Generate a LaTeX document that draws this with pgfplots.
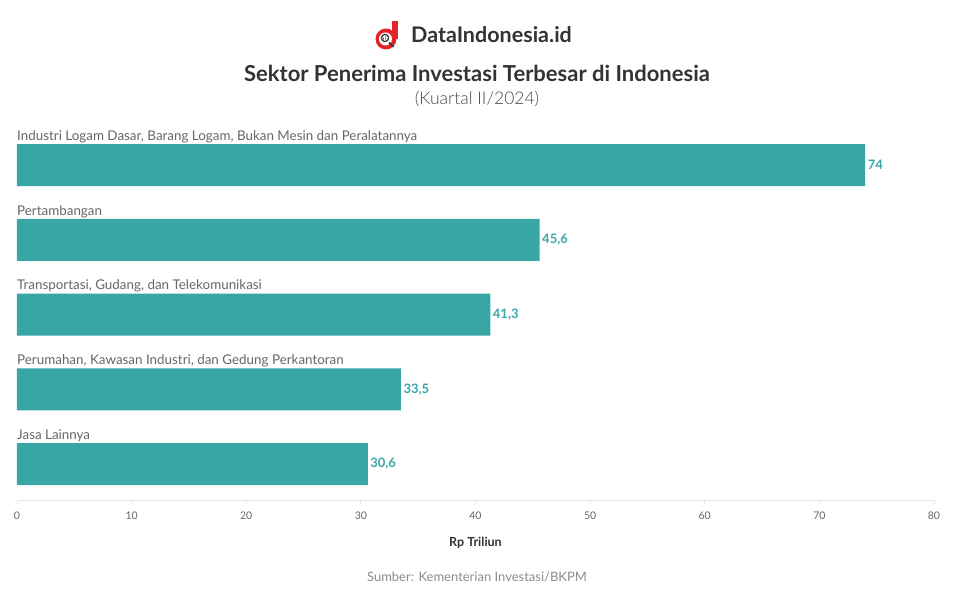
\documentclass[border=0pt]{standalone}
\usepackage{pgfplots}
\pgfplotsset{compat=1.18}
\usepackage{fontspec}
\setmainfont{Lato}
\definecolor{barc}{HTML}{38A6A5}
\definecolor{txt}{HTML}{333333}
\definecolor{lab}{HTML}{666666}
\definecolor{logored}{HTML}{E5232B}
\begin{document}
\begin{tikzpicture}[x=1pt,y=1pt]
\path[use as bounding box] (0,0) rectangle (954,596);
% logo
\fill[logored] (386,557) circle (10.5);
\fill[logored] (391.5,557) rectangle (397.5,575);
\fill[white] (385.5,557) circle (6.5);
\draw[txt, line width=1.6pt] (389,553.5) -- (393.5,549);
\draw[txt, line width=1.2pt] (385,558) circle (3.6);
\fill[barc] (383.3,556) rectangle (384.3,558.5);
\fill[orange] (385,556) rectangle (386,560);
\node[anchor=west, text=txt, font=\fontsize{21.5}{25}\selectfont\bfseries, inner sep=0pt] at (411,561) {DataIndonesia.id};
% title
\node[text=txt, font=\fontsize{22}{26}\selectfont\bfseries, inner sep=0pt] at (477,523) {Sektor Penerima Investasi Terbesar di Indonesia};
\node[text=txt!90, font=\fontsize{17.5}{20}\selectfont\fontspec{Lato Light}, inner sep=0pt] at (477,497) {(Kuartal II/2024)};
\begin{axis}[
  at={(17pt,96pt)}, anchor=south west,
  scale only axis, width=917pt, height=379.7pt,
  xmin=0, xmax=80, ymin=-4.48, ymax=0.6,
  xbar, bar width=42pt,
  axis x line*=bottom, axis y line=none,
  axis line style={draw=black!10, line width=0.8pt},
  xtick={0,10,...,80}, ytick=\empty,
  xtick pos=bottom, tick align=outside,
  major tick length=4pt,
  tick style={draw=black!10, line width=0.8pt},
  /pgf/number format/assume math mode=true,
  xticklabel style={font=\fontsize{10.5}{12}\selectfont, text=lab, yshift=-4pt},
  xlabel={Rp Triliun},
  xlabel style={font=\fontsize{12.5}{14}\selectfont\bfseries, text=txt, yshift=-11pt},
  nodes near coords,
  point meta=x,
  nodes near coords style={font=\fontsize{13}{15}\selectfont\bfseries, text=barc, anchor=west, xshift=-1pt, /pgf/number format/use comma},
  clip=false,
]
\addplot[fill=barc, draw=none] coordinates {(74,0) (45.6,-1) (41.3,-2) (33.5,-3) (30.6,-4)};
\node[anchor=base west, inner sep=0pt, text=lab, font=\fontsize{13.4}{15}\selectfont] at (axis cs:0,0.33) {Industri Logam Dasar, Barang Logam, Bukan Mesin dan Peralatannya};
\node[anchor=base west, inner sep=0pt, text=lab, font=\fontsize{13.4}{15}\selectfont] at (axis cs:0,-0.67) {Pertambangan};
\node[anchor=base west, inner sep=0pt, text=lab, font=\fontsize{13.4}{15}\selectfont] at (axis cs:0,-1.67) {Transportasi, Gudang, dan Telekomunikasi};
\node[anchor=base west, inner sep=0pt, text=lab, font=\fontsize{13.4}{15}\selectfont] at (axis cs:0,-2.67) {Perumahan, Kawasan Industri, dan Gedung Perkantoran};
\node[anchor=base west, inner sep=0pt, text=lab, font=\fontsize{13.4}{15}\selectfont] at (axis cs:0,-3.67) {Jasa Lainnya};
\end{axis}
\node[text=black!45, font=\fontsize{13}{15}\selectfont, inner sep=0pt] at (477,19) {Sumber: Kementerian Investasi/BKPM};
\end{tikzpicture}
\end{document}
